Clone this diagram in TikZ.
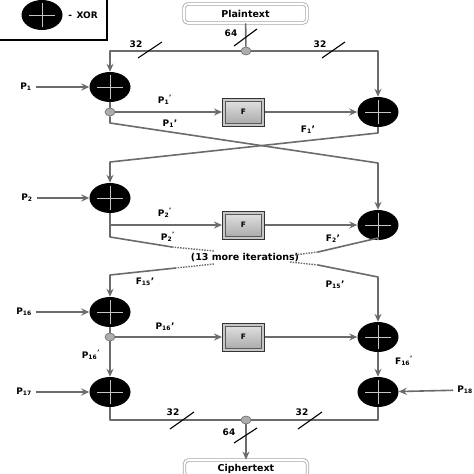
\documentclass[tikz,border=0pt]{standalone}
\usepackage{fontspec}
\setmainfont{DejaVu Sans}
\usetikzlibrary{shapes.geometric,arrows.meta}
\begin{document}
\begin{tikzpicture}[x=1pt,y=-1pt,
  wire/.style={draw=black!58, line width=1.6pt, line join=round},
  arr/.style={wire,-{Stealth[length=8pt,width=7pt]}},
  dots/.style={draw=black!58, line width=1.4pt, dash pattern=on 1.5pt off 1.2pt},
  xor/.style={ellipse, fill=black, minimum width=41pt, minimum height=30pt, inner sep=0pt,
    path picture={\draw[gray!45!white, line width=0.9pt]
      ([xshift=-13pt]path picture bounding box.center) -- ([xshift=13pt]path picture bounding box.center)
      ([yshift=-12pt]path picture bounding box.center) -- ([yshift=12pt]path picture bounding box.center);}},
  junc/.style={ellipse, fill=gray!65, draw=black!60, line width=0.6pt, minimum width=10pt, minimum height=8pt, inner sep=0pt},
  fbox/.style={rectangle, draw=black!80, line width=0.9pt, fill=gray!45, minimum width=42pt, minimum height=28pt,
    font=\bfseries\fontsize{7.5}{8}\selectfont,
    path picture={\shade[top color=gray!20, bottom color=gray!70, draw=black!65, line width=0.6pt]
      ([xshift=3pt,yshift=-3pt]path picture bounding box.north west) rectangle
      ([xshift=-3pt,yshift=3pt]path picture bounding box.south east);}},
  txtbox/.style={rectangle, rounded corners=4pt, draw=gray!70, double=white, double distance=1.8pt,
    line width=0.8pt, fill=white, minimum width=123pt, minimum height=19pt,
    font=\bfseries\fontsize{9.5}{10}\selectfont},
  lbl/.style={font=\bfseries\fontsize{9}{10}\selectfont, inner sep=0pt},
  slash/.style={draw=black, line width=1.1pt}]
\useasboundingbox (0,0) rectangle (474,474);

% legend
\draw[line width=1.5pt] (-5,-5) rectangle (107,40);
\node[xor] (lx) at (42,15) {};
\node[font=\bfseries\fontsize{9}{10}\selectfont] (lt) at (83,15) {-\enspace XOR};

% plaintext and split
\node[txtbox] (pt) at (245.5,13.5) {Plaintext};
\node[junc] (jt) at (246,51) {};
\node[xor] (x1l) at (110,87) {};
\node[xor] (x1r) at (378,112) {};
\node[junc] (d1) at (110,112) {};
\node[fbox] (f1) at (243.5,112) {F};
\node[lbl] (p1) at (26,87) {P\textsubscript{1}};

\draw[wire] (pt) -- (jt);
\draw[arr] (jt) -| (x1l);
\draw[arr] (jt) -| (x1r);
\draw[slash] (138,58) -- (162,42);
\draw[slash] (322,58) -- (345,42);
\draw[slash] (234,46) -- (257,29);
\node[lbl] (n32a) at (136,44) {32};
\node[lbl] (n32b) at (320,44) {32};
\node[lbl] (n64a) at (231,33) {64};

% round 1
\draw[arr, shorten <=4pt] (p1) -- (x1l);
\draw[wire] (x1l) -- (d1);
\draw[arr] (d1) -- (f1);
\draw[arr] (f1) -- (x1r);
\node[lbl] (l1a) at (165,100) {P\textsubscript{1}\textsuperscript{’}};
\node[lbl] (l1b) at (170,124) {P\textsubscript{1}’};
\node[lbl] (l1c) at (308,130) {F\textsubscript{1}’};

% round 2
\node[xor] (x2l) at (110,198) {};
\node[xor] (x2r) at (378,225) {};
\node[fbox] (f2) at (243.5,225) {F};
\node[lbl] (p2) at (27,198) {P\textsubscript{2}};

\coordinate (c1a) at (110,123);
\coordinate (c1b) at (378,163);
\coordinate (c1c) at (378,133);
\coordinate (c1d) at (110,162);
\draw[arr] (d1) -- (c1a) -- (c1b) -- (x2r);
\draw[arr] (x1r) -- (c1c) -- (c1d) -- (x2l);

\draw[arr, shorten <=4pt] (p2) -- (x2l);
\draw[arr] (x2l) |- (f2);
\draw[arr] (f2) -- (x2r);
\node[lbl] (l2a) at (165,213) {P\textsubscript{2}\textsuperscript{’}};
\node[lbl] (l2b) at (168,237) {P\textsubscript{2}\textsuperscript{’}};
\node[lbl] (l2c) at (333,239) {F\textsubscript{2}’};

% more iterations
\node[font=\bfseries\fontsize{9.5}{10}\selectfont, inner sep=1pt] (it) at (245,258) {(13 more iterations)};
\coordinate (c2a) at (110,225);
\coordinate (c2b) at (110,237);
\coordinate (c2c) at (172,247);
\coordinate (c2d) at (214,251);
\coordinate (c2e) at (378,238);
\coordinate (c2f) at (318,252);
\coordinate (c2g) at (294,255);
\draw[wire] (c2a) -- (c2b) -- (c2c);
\draw[dots] (c2c) -- (c2d);
\draw[wire] (x2r) -- (c2e) -- (c2f);
\draw[dots] (c2f) -- (c2g);

\node[xor] (x16l) at (110,312) {};
\node[xor] (x16r) at (378,337) {};
\coordinate (c3a) at (214,264);
\coordinate (c3b) at (176,268);
\coordinate (c3c) at (110,275);
\coordinate (c3d) at (290,262);
\coordinate (c3e) at (318,265);
\coordinate (c3f) at (378,277);
\draw[dots] (c3a) -- (c3b);
\draw[arr] (c3b) -- (c3c) -- (x16l);
\draw[dots] (c3d) -- (c3e);
\draw[arr] (c3e) -- (c3f) -- (x16r);
\node[lbl] (l3a) at (145,282) {F\textsubscript{15}’};
\node[lbl] (l3b) at (335,285) {P\textsubscript{15}’};

% round 16
\node[junc] (d16) at (110,337) {};
\node[fbox] (f16) at (243.5,337) {F};
\node[lbl] (p16) at (24,312) {P\textsubscript{16}};
\draw[arr, shorten <=4pt] (p16) -- (x16l);
\draw[wire] (x16l) -- (d16);
\draw[arr] (d16) -- (f16);
\draw[arr] (f16) -- (x16r);
\node[lbl] (l4a) at (165,327) {P\textsubscript{16}’};
\node[lbl] (l4b) at (91,355) {P\textsubscript{16}\textsuperscript{’}};
\node[lbl] (l4c) at (404,361) {F\textsubscript{16}\textsuperscript{’}};

% final whitening
\node[xor] (x17l) at (110,392) {};
\node[xor] (x18r) at (378,392) {};
\node[lbl] (p17) at (24,392) {P\textsubscript{17}};
\node[lbl] (p18) at (465,390) {P\textsubscript{18}};
\draw[arr] (d16) -- (x17l);
\draw[arr] (x16r) -- (x18r);
\draw[arr, shorten <=4pt] (p17) -- (x17l);
\draw[arr, shorten <=4pt] (p18) -- (x18r);

% join
\node[junc] (jb) at (246,420) {};
\node[txtbox, minimum height=17pt] (ct) at (246,468.5) {Ciphertext};
\draw[wire] (x17l) |- (jb);
\draw[wire] (x18r) |- (jb);
\draw[arr] (jb) -- (ct);
\draw[slash] (170,429) -- (194,412);
\draw[slash] (298,429) -- (322,412);
\draw[slash] (234,443) -- (257,428);
\node[lbl] (n32c) at (173,412) {32};
\node[lbl] (n32d) at (302,412) {32};
\node[lbl] (n64b) at (229,432) {64};
\end{tikzpicture}
\end{document}
